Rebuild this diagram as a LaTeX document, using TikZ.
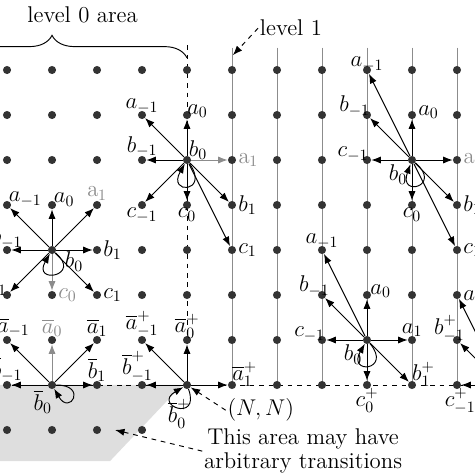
\documentclass[tikz,border=0pt]{standalone}
\usepackage{amsmath}
\usetikzlibrary{arrows.meta}
\usetikzlibrary{positioning}
\usetikzlibrary{decorations.pathreplacing}
\tikzset{
dot/.style={circle,fill=black!80,inner sep=0pt,minimum size=1.8mm},
lab/.style={inner sep=1pt,font=\Large},
arr/.style={-{Latex[length=6pt,width=4.5pt]},line width=0.6pt},
fnt/.style={black!45},
}

\begin{document}
\begin{tikzpicture}
	\useasboundingbox (-0.156,-8.978) rectangle (10.378,1.556);
	% area with arbitrary transitions
	\fill[black!13] (-0.3,-7) -- (3.89,-7) -- (2.29,-8.69) -- (-0.3,-8.69) -- cycle;
	% level lines
	\foreach \i in {5,...,10} \draw[black!45,line width=0.5pt] (\i,0.5) -- (\i,-7);
	\draw[dashed,line width=0.6pt] (4,0.55) -- (4,-7);
	\draw[dashed,line width=0.6pt] (-0.3,-7) -- (10.5,-7);
	% states
	\foreach \j in {0,...,7} \foreach \i in {0,...,10} \node[dot] (d-\i-\j) at (\i,-\j) {};
	\foreach \i in {0,...,3} \node[dot] (d-\i-8) at (\i,-8) {};
	\coordinate (ectr) at (11,-7);
	% level 0 brace
	\draw[decorate,decoration={brace,amplitude=0.5cm},line width=0.6pt] (-2,0.27) -- (4,0.27);
	\node[lab] (lev0) at (1.68,1.22) {level 0 area};
	\node[lab] (lev1) at (6.31,0.93) {level 1};
	\coordinate (lev1tip) at (5.02,0.33);
	\draw[arr,dashed] (lev1.west) -- (lev1tip);

	% inner state, level 0
	\draw[arr] (d-1-4) -- (d-0-3);
	\draw[arr] (d-1-4) -- (d-1-3);
	\draw[arr] (d-1-4) -- (d-2-3);
	\draw[arr] (d-1-4) -- (d-0-4);
	\draw[arr] (d-1-4) -- (d-2-4);
	\draw[arr] (d-1-4) -- (d-0-5);
	\draw[arr,fnt] (d-1-4) -- (d-1-5);
	\draw[arr] (d-1-4) -- (d-2-5);
	\draw[arr] (d-1-4) to[out=-40,in=-120,min distance=8mm] (d-1-4);
	\node[lab,above right=-4pt and -2pt of d-0-3] (a-am1) {$a_{-1}$};
	\node[lab,above right=-4pt and -2pt of d-1-3] (a-a0) {$a_0$};
	\node[lab,fnt,above=-1pt of d-2-3] (a-a1) {$\mathrm{a}_1$};
	\node[lab,above=-3pt of d-0-4] (a-bm1) {$b_{-1}$};
	\node[lab,right=0pt of d-2-4] (a-b1) {$b_1$};
	\node[lab,above left=-4pt and -3pt of d-0-5] (a-cm1) {$c_{-1}$};
	\node[lab,fnt,right=0pt of d-1-5] (a-c0) {$c_0$};
	\node[lab,right=0pt of d-2-5] (a-c1) {$c_1$};
	\node[lab,below right=-2pt and 5pt of d-1-4] (a-b0) {$b_0$};

	% state next to level 1
	\draw[arr] (d-4-2) -- (d-3-1);
	\draw[arr] (d-4-2) -- (d-4-1);
	\draw[arr] (d-4-2) -- (d-3-2);
	\draw[arr,fnt] (d-4-2) -- (d-5-2);
	\draw[arr] (d-4-2) -- (d-3-3);
	\draw[arr] (d-4-2) -- (d-4-3);
	\draw[arr] (d-4-2) -- (d-5-3);
	\draw[arr] (d-4-2) -- (d-5-4);
	\draw[arr] (d-4-2) to[out=-55,in=-120,min distance=8mm] (d-4-2);
	\node[lab,above=-3pt of d-3-1] (b-am1) {$a_{-1}$};
	\node[lab,above=-2pt of d-3-2] (b-bm1) {$b_{-1}$};
	\node[lab,above right=-5pt and -3pt of d-4-1] (b-a0) {$a_0$};
	\node[lab,above right=-3pt and -2pt of d-4-2] (b-b0) {$b_0$};
	\node[lab,fnt,right=0pt of d-5-2] (b-a1) {$\mathrm{a}_1$};
	\node[lab,below=-2pt of d-3-3] (b-cm1) {$c_{-1}$};
	\node[lab,below=-2pt of d-4-3] (b-c0) {$c_0$};
	\node[lab,right=0pt of d-5-3] (b-b1) {$b_1$};
	\node[lab,right=0pt of d-5-4] (b-c1) {$c_1$};

	% inner state, level 1
	\draw[arr] (d-9-2) -- (d-8-0);
	\draw[arr] (d-9-2) -- (d-8-1);
	\draw[arr] (d-9-2) -- (d-9-1);
	\draw[arr] (d-9-2) -- (d-8-2);
	\draw[arr] (d-9-2) -- (d-10-2);
	\draw[arr] (d-9-2) -- (d-9-3);
	\draw[arr] (d-9-2) -- (d-10-3);
	\draw[arr] (d-9-2) -- (d-10-4);
	\draw[arr] (d-9-2) to[out=-40,in=-110,min distance=8mm] (d-9-2);
	\node[lab,above=-5pt of d-8-0] (c-am1) {$a_{-1}$};
	\node[lab,above left=-4pt and -5pt of d-8-1] (c-bm1) {$b_{-1}$};
	\node[lab,right=0pt of d-9-1,yshift=2pt] (c-a0) {$a_0$};
	\node[lab,above left=-4pt and -4pt of d-8-2] (c-cm1) {$c_{-1}$};
	\node[lab,below left=0pt and 0pt of d-9-2] (c-b0) {$b_0$};
	\node[lab,below=-2pt of d-9-3] (c-c0) {$c_0$};
	\node[lab,fnt,right=0pt of d-10-2] (c-a1) {$\mathrm{a}_1$};
	\node[lab,right=0pt of d-10-3] (c-b1) {$b_1$};
	\node[lab,right=0pt of d-10-4] (c-c1) {$c_1$};

	% level 1 state above the boundary
	\draw[arr] (d-8-6) -- (d-7-4);
	\draw[arr] (d-8-6) -- (d-7-5);
	\draw[arr] (d-8-6) -- (d-8-5);
	\draw[arr] (d-8-6) -- (d-7-6);
	\draw[arr] (d-8-6) -- (d-9-6);
	\draw[arr] (d-8-6) -- (d-8-7);
	\draw[arr] (d-8-6) -- (d-9-7);
	\draw[arr] (d-8-6) to[out=-50,in=-120,min distance=8mm] (d-8-6);
	\node[lab,above=-3pt of d-7-4] (d-am1) {$a_{-1}$};
	\node[lab,above left=-4pt and -8pt of d-7-5] (d-bm1) {$b_{-1}$};
	\node[lab,above right=-5pt and -1pt of d-8-5] (d-a0) {$a_0$};
	\node[lab,above left=-4pt and -5pt of d-7-6] (d-cm1) {$c_{-1}$};
	\node[lab,above=-2pt of d-9-6] (d-a1) {$a_1$};
	\node[lab,above right=-4pt and -3pt of d-9-7] (d-b1p) {$b_1^+$};
	\node[lab,below=-2pt of d-8-7] (d-c0p) {$c_0^+$};
	\node[lab,below left=0pt and 0pt of d-8-6] (d-b0) {$b_0$};

	% next boundary state
	\draw[arr] (ectr) -- (d-10-5);
	\draw[arr] (ectr) -- (d-10-6);
	\draw[arr] (ectr) -- (d-10-7);
	\node[lab,right=0pt of d-10-5] (e-am1p) {$a_{-1}^+$};
	\node[lab,above left=-4pt and -8pt of d-10-6] (e-bm1p) {$b_{-1}^+$};
	\node[lab,below=-2pt of d-10-7,xshift=2pt] (e-cm1p) {$c_{-1}^+$};

	% boundary state, level 0
	\draw[arr] (d-1-7) -- (d-0-6);
	\draw[arr,fnt] (d-1-7) -- (d-1-6);
	\draw[arr] (d-1-7) -- (d-2-6);
	\draw[arr] (d-1-7) -- (d-0-7);
	\draw[arr] (d-1-7) -- (d-2-7);
	\draw[arr] (d-1-7) to[out=0,in=-60,min distance=7mm] (d-1-7);
	\node[lab,above=-2pt of d-0-6,xshift=4pt] (f-am1) {$\overline{a}_{-1}$};
	\node[lab,fnt,above=-2pt of d-1-6] (f-a0) {$\overline{a}_0$};
	\node[lab,above=-2pt of d-2-6] (f-a1) {$\overline{a}_1$};
	\node[lab,above=-2pt of d-0-7] (f-bm1) {$\overline{b}_{-1}$};
	\node[lab,above=-2pt of d-2-7] (f-b1) {$\overline{b}_1$};
	\node[lab,below left=0pt and -3pt of d-1-7] (f-b0) {$\overline{b}_0$};

	% corner state (N,N)
	\draw[arr] (d-4-7) -- (d-3-6);
	\draw[arr] (d-4-7) -- (d-4-6);
	\draw[arr] (d-4-7) -- (d-3-7);
	\draw[arr] (d-4-7) -- (d-5-7);
	\draw[arr] (d-4-7) to[out=-70,in=-150,min distance=8mm] (d-4-7);
	\node[lab,above=-2pt of d-3-6] (g-am1p) {$\overline{a}_{-1}^+$};
	\node[lab,above=-3pt of d-4-6] (g-a0p) {$\overline{a}_0^+$};
	\node[lab,above=-2pt of d-3-7,xshift=-3pt] (g-bm1p) {$\overline{b}_{-1}^+$};
	\node[lab,above right=-4pt and -3pt of d-5-7] (g-a1p) {$\overline{a}_1^+$};
	\node[lab,below=5pt of d-4-7,xshift=-5pt] (g-b0p) {$\overline{b}_0^+$};

	% annotations
	\node[lab] (nn) at (5.64,-7.56) {$(N,N)$};
	\draw[arr,dashed] (nn.west) -- (d-4-7);
	\node[lab,align=center] (txt) at (6.58,-8.47) {This area may have\\[-3pt]arbitrary transitions};
	\coordinate (areatip) at (2.4,-8.0);
	\draw[arr,dashed] (txt.west) -- (areatip);
\end{tikzpicture}
\end{document}
